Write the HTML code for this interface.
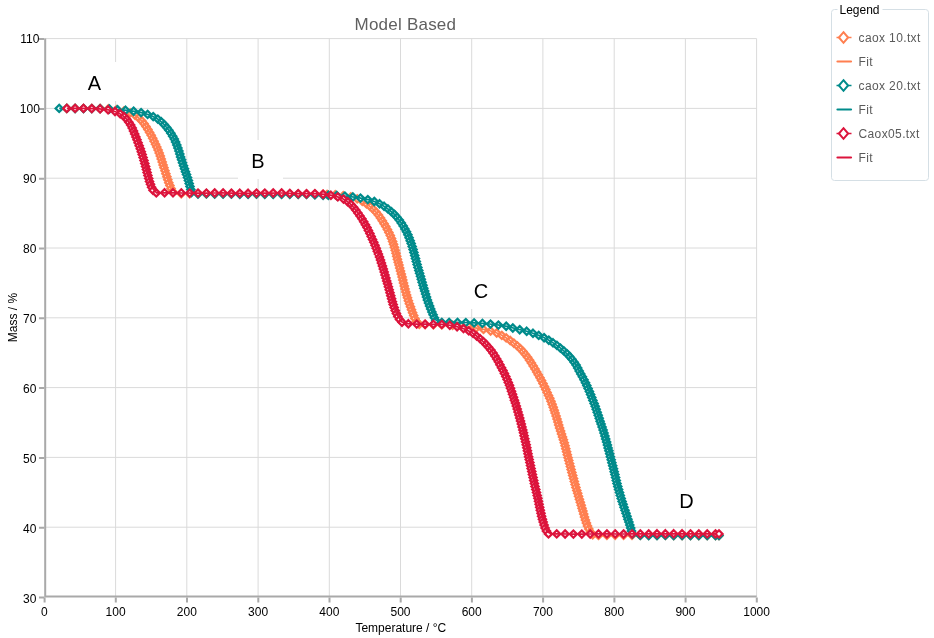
<!DOCTYPE html>
<html><head><meta charset="utf-8"><title>Model Based</title>
<style>html,body{margin:0;padding:0;background:#fff;}body{width:934px;height:638px;overflow:hidden;position:relative;}</style>
</head><body>
<svg width="934" height="638" viewBox="0 0 934 638" style="position:absolute;left:0;top:0;will-change:transform">
<path d="M115.6 38.6V597M186.8 38.6V597M258.1 38.6V597M329.3 38.6V597M400.5 38.6V597M471.7 38.6V597M542.9 38.6V597M614.2 38.6V597M685.4 38.6V597M756.6 38.6V597M44.4 527.2H756.6M44.4 457.4H756.6M44.4 387.6H756.6M44.4 317.8H756.6M44.4 248H756.6M44.4 178.2H756.6M44.4 108.4H756.6M44.4 38.6H756.6" stroke="#dadada" stroke-width="1" fill="none"/>
<rect x="74.7" y="62" width="45" height="39" fill="#fff"/>
<rect x="238" y="140" width="45" height="39" fill="#fff"/>
<rect x="461" y="269" width="45" height="40" fill="#fff"/>
<rect x="667" y="480" width="45" height="39" fill="#fff"/>
<path d="M45.2 38.6V597.6M44.2 596.6H756.6" stroke="#a9a9a9" stroke-width="2" fill="none"/>
<path d="M39 597.5H44.2M39 527.7H44.2M39 457.9H44.2M39 388.1H44.2M39 318.3H44.2M39 248.5H44.2M39 178.7H44.2M39 108.9H44.2M39 39.1H44.2M44.6 597.6V602.6M115.8 597.6V602.6M187 597.6V602.6M258.3 597.6V602.6M329.5 597.6V602.6M400.7 597.6V602.6M471.9 597.6V602.6M543.1 597.6V602.6M614.4 597.6V602.6M685.6 597.6V602.6M756.8 597.6V602.6" stroke="#a9a9a9" stroke-width="2" fill="none"/>
<g font-family="Liberation Sans, Arial, sans-serif" font-size="12" fill="#000"><text x="29.8" y="602.8" text-anchor="middle">30</text><text x="29.8" y="532.8" text-anchor="middle">40</text><text x="29.8" y="462.8" text-anchor="middle">50</text><text x="29.8" y="392.8" text-anchor="middle">60</text><text x="29.8" y="322.7" text-anchor="middle">70</text><text x="29.8" y="252.7" text-anchor="middle">80</text><text x="29.8" y="182.7" text-anchor="middle">90</text><text x="29.8" y="112.7" text-anchor="middle">100</text><text x="29.8" y="42.6" text-anchor="middle">110</text><text x="44.4" y="615.7" text-anchor="middle">0</text><text x="115.6" y="615.7" text-anchor="middle">100</text><text x="186.8" y="615.7" text-anchor="middle">200</text><text x="258.1" y="615.7" text-anchor="middle">300</text><text x="329.3" y="615.7" text-anchor="middle">400</text><text x="400.5" y="615.7" text-anchor="middle">500</text><text x="471.7" y="615.7" text-anchor="middle">600</text><text x="542.9" y="615.7" text-anchor="middle">700</text><text x="614.2" y="615.7" text-anchor="middle">800</text><text x="685.4" y="615.7" text-anchor="middle">900</text><text x="756.6" y="615.7" text-anchor="middle">1000</text></g>
<text x="400.8" y="631.5" text-anchor="middle" font-family="Liberation Sans, Arial, sans-serif" font-size="12" fill="#000">Temperature / °C</text>
<text transform="translate(16.9 317.6) rotate(-90)" text-anchor="middle" font-family="Liberation Sans, Arial, sans-serif" font-size="12" fill="#000">Mass / %</text>
<text x="405.4" y="29.8" text-anchor="middle" font-family="Liberation Sans, Arial, sans-serif" font-size="17" letter-spacing="0.22" fill="#606060">Model Based</text>
<text x="94.5" y="89.9" text-anchor="middle" font-family="Liberation Sans, Arial, sans-serif" font-size="20" fill="#000">A</text>
<text x="257.9" y="167.9" text-anchor="middle" font-family="Liberation Sans, Arial, sans-serif" font-size="20" fill="#000">B</text>
<text x="481.0" y="297.7" text-anchor="middle" font-family="Liberation Sans, Arial, sans-serif" font-size="20" fill="#000">C</text>
<text x="686.6" y="508.0" text-anchor="middle" font-family="Liberation Sans, Arial, sans-serif" font-size="20" fill="#000">D</text>
<g stroke="#FF7F50" stroke-width="2.25" fill="#fff"><path d="M66.8 104.8l3.6 3.6l-3.6 3.6l-3.6 -3.6z"/><path d="M66.8 104.8l3.6 3.6l-3.6 3.6l-3.6 -3.6z"/><path d="M75.1 104.8l3.6 3.6l-3.6 3.6l-3.6 -3.6z"/><path d="M83.5 104.8l3.6 3.6l-3.6 3.6l-3.6 -3.6z"/><path d="M91.8 104.8l3.6 3.6l-3.6 3.6l-3.6 -3.6z"/><path d="M100.1 104.9l3.6 3.6l-3.6 3.6l-3.6 -3.6z"/><path d="M108.5 105.2l3.6 3.6l-3.6 3.6l-3.6 -3.6z"/><path d="M116.6 106l3.6 3.6l-3.6 3.6l-3.6 -3.6z"/><path d="M124 107.3l3.6 3.6l-3.6 3.6l-3.6 -3.6z"/><path d="M130.2 109.3l3.6 3.6l-3.6 3.6l-3.6 -3.6z"/><path d="M135.1 111.7l3.6 3.6l-3.6 3.6l-3.6 -3.6z"/><path d="M138.8 114.4l3.6 3.6l-3.6 3.6l-3.6 -3.6z"/><path d="M141.7 117.2l3.6 3.6l-3.6 3.6l-3.6 -3.6z"/><path d="M144.1 120.1l3.6 3.6l-3.6 3.6l-3.6 -3.6z"/><path d="M146 123l3.6 3.6l-3.6 3.6l-3.6 -3.6z"/><path d="M147.9 125.9l3.6 3.6l-3.6 3.6l-3.6 -3.6z"/><path d="M149.6 128.8l3.6 3.6l-3.6 3.6l-3.6 -3.6z"/><path d="M151.2 131.7l3.6 3.6l-3.6 3.6l-3.6 -3.6z"/><path d="M152.7 134.7l3.6 3.6l-3.6 3.6l-3.6 -3.6z"/><path d="M154.1 137.6l3.6 3.6l-3.6 3.6l-3.6 -3.6z"/><path d="M155.5 140.6l3.6 3.6l-3.6 3.6l-3.6 -3.6z"/><path d="M156.8 143.5l3.6 3.6l-3.6 3.6l-3.6 -3.6z"/><path d="M158.1 146.5l3.6 3.6l-3.6 3.6l-3.6 -3.6z"/><path d="M159.2 149.4l3.6 3.6l-3.6 3.6l-3.6 -3.6z"/><path d="M160.3 152.4l3.6 3.6l-3.6 3.6l-3.6 -3.6z"/><path d="M161.2 155.3l3.6 3.6l-3.6 3.6l-3.6 -3.6z"/><path d="M162.2 158.3l3.6 3.6l-3.6 3.6l-3.6 -3.6z"/><path d="M163.1 161.3l3.6 3.6l-3.6 3.6l-3.6 -3.6z"/><path d="M164 164.2l3.6 3.6l-3.6 3.6l-3.6 -3.6z"/><path d="M165 167.2l3.6 3.6l-3.6 3.6l-3.6 -3.6z"/><path d="M165.9 170.2l3.6 3.6l-3.6 3.6l-3.6 -3.6z"/><path d="M166.9 173.1l3.6 3.6l-3.6 3.6l-3.6 -3.6z"/><path d="M167.8 176.1l3.6 3.6l-3.6 3.6l-3.6 -3.6z"/><path d="M168.8 179.1l3.6 3.6l-3.6 3.6l-3.6 -3.6z"/><path d="M169.9 182l3.6 3.6l-3.6 3.6l-3.6 -3.6z"/><path d="M171.1 185l3.6 3.6l-3.6 3.6l-3.6 -3.6z"/><path d="M172.6 187.9l3.6 3.6l-3.6 3.6l-3.6 -3.6z"/><path d="M181.3 190.1l3.6 3.6l-3.6 3.6l-3.6 -3.6z"/><path d="M189.7 190.1l3.6 3.6l-3.6 3.6l-3.6 -3.6z"/><path d="M198 190l3.6 3.6l-3.6 3.6l-3.6 -3.6z"/><path d="M206.4 190.1l3.6 3.6l-3.6 3.6l-3.6 -3.6z"/><path d="M214.7 190.2l3.6 3.6l-3.6 3.6l-3.6 -3.6z"/><path d="M223.1 190.3l3.6 3.6l-3.6 3.6l-3.6 -3.6z"/><path d="M231.4 190.3l3.6 3.6l-3.6 3.6l-3.6 -3.6z"/><path d="M239.8 190.3l3.6 3.6l-3.6 3.6l-3.6 -3.6z"/><path d="M248.1 190.3l3.6 3.6l-3.6 3.6l-3.6 -3.6z"/><path d="M256.5 190.4l3.6 3.6l-3.6 3.6l-3.6 -3.6z"/><path d="M264.8 190.4l3.6 3.6l-3.6 3.6l-3.6 -3.6z"/><path d="M273.2 190.5l3.6 3.6l-3.6 3.6l-3.6 -3.6z"/><path d="M281.6 190.5l3.6 3.6l-3.6 3.6l-3.6 -3.6z"/><path d="M289.8 190.5l3.6 3.6l-3.6 3.6l-3.6 -3.6z"/><path d="M298.2 190.6l3.6 3.6l-3.6 3.6l-3.6 -3.6z"/><path d="M306.5 190.6l3.6 3.6l-3.6 3.6l-3.6 -3.6z"/><path d="M314.9 190.6l3.6 3.6l-3.6 3.6l-3.6 -3.6z"/><path d="M323.1 190.7l3.6 3.6l-3.6 3.6l-3.6 -3.6z"/><path d="M327.1 190.8l3.6 3.6l-3.6 3.6l-3.6 -3.6z"/><path d="M335.3 191.2l3.6 3.6l-3.6 3.6l-3.6 -3.6z"/><path d="M343.3 192.1l3.6 3.6l-3.6 3.6l-3.6 -3.6z"/><path d="M350.8 193.4l3.6 3.6l-3.6 3.6l-3.6 -3.6z"/><path d="M357.2 195.3l3.6 3.6l-3.6 3.6l-3.6 -3.6z"/><path d="M362.3 197.7l3.6 3.6l-3.6 3.6l-3.6 -3.6z"/><path d="M366.5 200.3l3.6 3.6l-3.6 3.6l-3.6 -3.6z"/><path d="M370.2 202.9l3.6 3.6l-3.6 3.6l-3.6 -3.6z"/><path d="M373.3 205.7l3.6 3.6l-3.6 3.6l-3.6 -3.6z"/><path d="M376 208.5l3.6 3.6l-3.6 3.6l-3.6 -3.6z"/><path d="M378.4 211.4l3.6 3.6l-3.6 3.6l-3.6 -3.6z"/><path d="M380.5 214.3l3.6 3.6l-3.6 3.6l-3.6 -3.6z"/><path d="M382.3 217.2l3.6 3.6l-3.6 3.6l-3.6 -3.6z"/><path d="M384.1 220.1l3.6 3.6l-3.6 3.6l-3.6 -3.6z"/><path d="M385.8 223l3.6 3.6l-3.6 3.6l-3.6 -3.6z"/><path d="M387.4 226l3.6 3.6l-3.6 3.6l-3.6 -3.6z"/><path d="M388.9 228.9l3.6 3.6l-3.6 3.6l-3.6 -3.6z"/><path d="M390.3 231.9l3.6 3.6l-3.6 3.6l-3.6 -3.6z"/><path d="M391.5 234.8l3.6 3.6l-3.6 3.6l-3.6 -3.6z"/><path d="M392.6 237.8l3.6 3.6l-3.6 3.6l-3.6 -3.6z"/><path d="M393.5 240.7l3.6 3.6l-3.6 3.6l-3.6 -3.6z"/><path d="M394.4 243.7l3.6 3.6l-3.6 3.6l-3.6 -3.6z"/><path d="M395.2 246.7l3.6 3.6l-3.6 3.6l-3.6 -3.6z"/><path d="M396 249.6l3.6 3.6l-3.6 3.6l-3.6 -3.6z"/><path d="M396.7 252.6l3.6 3.6l-3.6 3.6l-3.6 -3.6z"/><path d="M397.4 255.6l3.6 3.6l-3.6 3.6l-3.6 -3.6z"/><path d="M398.2 258.6l3.6 3.6l-3.6 3.6l-3.6 -3.6z"/><path d="M399 261.5l3.6 3.6l-3.6 3.6l-3.6 -3.6z"/><path d="M399.7 264.5l3.6 3.6l-3.6 3.6l-3.6 -3.6z"/><path d="M400.5 267.5l3.6 3.6l-3.6 3.6l-3.6 -3.6z"/><path d="M401.3 270.5l3.6 3.6l-3.6 3.6l-3.6 -3.6z"/><path d="M402.1 273.4l3.6 3.6l-3.6 3.6l-3.6 -3.6z"/><path d="M402.8 276.4l3.6 3.6l-3.6 3.6l-3.6 -3.6z"/><path d="M403.5 279.4l3.6 3.6l-3.6 3.6l-3.6 -3.6z"/><path d="M404.3 282.4l3.6 3.6l-3.6 3.6l-3.6 -3.6z"/><path d="M405 285.3l3.6 3.6l-3.6 3.6l-3.6 -3.6z"/><path d="M405.8 288.3l3.6 3.6l-3.6 3.6l-3.6 -3.6z"/><path d="M406.6 291.3l3.6 3.6l-3.6 3.6l-3.6 -3.6z"/><path d="M407.5 294.2l3.6 3.6l-3.6 3.6l-3.6 -3.6z"/><path d="M408.4 297.2l3.6 3.6l-3.6 3.6l-3.6 -3.6z"/><path d="M409.4 300.2l3.6 3.6l-3.6 3.6l-3.6 -3.6z"/><path d="M410.5 303.1l3.6 3.6l-3.6 3.6l-3.6 -3.6z"/><path d="M411.5 306.1l3.6 3.6l-3.6 3.6l-3.6 -3.6z"/><path d="M412.6 309.1l3.6 3.6l-3.6 3.6l-3.6 -3.6z"/><path d="M413.7 312l3.6 3.6l-3.6 3.6l-3.6 -3.6z"/><path d="M414.9 315l3.6 3.6l-3.6 3.6l-3.6 -3.6z"/><path d="M416.4 317.9l3.6 3.6l-3.6 3.6l-3.6 -3.6z"/><path d="M419.3 320.7l3.6 3.6l-3.6 3.6l-3.6 -3.6z"/><path d="M425.1 320.9l3.6 3.6l-3.6 3.6l-3.6 -3.6z"/><path d="M433.4 321.1l3.6 3.6l-3.6 3.6l-3.6 -3.6z"/><path d="M441.8 321.3l3.6 3.6l-3.6 3.6l-3.6 -3.6z"/><path d="M452.6 321.6l3.6 3.6l-3.6 3.6l-3.6 -3.6z"/><path d="M460.8 322l3.6 3.6l-3.6 3.6l-3.6 -3.6z"/><path d="M468.8 323l3.6 3.6l-3.6 3.6l-3.6 -3.6z"/><path d="M476.2 324.4l3.6 3.6l-3.6 3.6l-3.6 -3.6z"/><path d="M483.5 325.8l3.6 3.6l-3.6 3.6l-3.6 -3.6z"/><path d="M490.6 327.4l3.6 3.6l-3.6 3.6l-3.6 -3.6z"/><path d="M496.7 329.4l3.6 3.6l-3.6 3.6l-3.6 -3.6z"/><path d="M501.8 331.8l3.6 3.6l-3.6 3.6l-3.6 -3.6z"/><path d="M506.2 334.3l3.6 3.6l-3.6 3.6l-3.6 -3.6z"/><path d="M510.2 336.9l3.6 3.6l-3.6 3.6l-3.6 -3.6z"/><path d="M513.9 339.6l3.6 3.6l-3.6 3.6l-3.6 -3.6z"/><path d="M517.3 342.3l3.6 3.6l-3.6 3.6l-3.6 -3.6z"/><path d="M520.3 345.1l3.6 3.6l-3.6 3.6l-3.6 -3.6z"/><path d="M523 347.9l3.6 3.6l-3.6 3.6l-3.6 -3.6z"/><path d="M525.4 350.8l3.6 3.6l-3.6 3.6l-3.6 -3.6z"/><path d="M527.6 353.7l3.6 3.6l-3.6 3.6l-3.6 -3.6z"/><path d="M529.6 356.6l3.6 3.6l-3.6 3.6l-3.6 -3.6z"/><path d="M531.4 359.5l3.6 3.6l-3.6 3.6l-3.6 -3.6z"/><path d="M533.2 362.4l3.6 3.6l-3.6 3.6l-3.6 -3.6z"/><path d="M535 365.3l3.6 3.6l-3.6 3.6l-3.6 -3.6z"/><path d="M536.7 368.3l3.6 3.6l-3.6 3.6l-3.6 -3.6z"/><path d="M538.3 371.2l3.6 3.6l-3.6 3.6l-3.6 -3.6z"/><path d="M540 374.1l3.6 3.6l-3.6 3.6l-3.6 -3.6z"/><path d="M541.5 377l3.6 3.6l-3.6 3.6l-3.6 -3.6z"/><path d="M543 380l3.6 3.6l-3.6 3.6l-3.6 -3.6z"/><path d="M544.4 382.9l3.6 3.6l-3.6 3.6l-3.6 -3.6z"/><path d="M545.8 385.9l3.6 3.6l-3.6 3.6l-3.6 -3.6z"/><path d="M547.1 388.8l3.6 3.6l-3.6 3.6l-3.6 -3.6z"/><path d="M548.5 391.8l3.6 3.6l-3.6 3.6l-3.6 -3.6z"/><path d="M549.8 394.7l3.6 3.6l-3.6 3.6l-3.6 -3.6z"/><path d="M551 397.7l3.6 3.6l-3.6 3.6l-3.6 -3.6z"/><path d="M552.1 400.6l3.6 3.6l-3.6 3.6l-3.6 -3.6z"/><path d="M553.2 403.6l3.6 3.6l-3.6 3.6l-3.6 -3.6z"/><path d="M554.2 406.6l3.6 3.6l-3.6 3.6l-3.6 -3.6z"/><path d="M555.1 409.5l3.6 3.6l-3.6 3.6l-3.6 -3.6z"/><path d="M556.1 412.5l3.6 3.6l-3.6 3.6l-3.6 -3.6z"/><path d="M557 415.5l3.6 3.6l-3.6 3.6l-3.6 -3.6z"/><path d="M557.9 418.4l3.6 3.6l-3.6 3.6l-3.6 -3.6z"/><path d="M558.7 421.4l3.6 3.6l-3.6 3.6l-3.6 -3.6z"/><path d="M559.6 424.4l3.6 3.6l-3.6 3.6l-3.6 -3.6z"/><path d="M560.6 427.3l3.6 3.6l-3.6 3.6l-3.6 -3.6z"/><path d="M561.5 430.3l3.6 3.6l-3.6 3.6l-3.6 -3.6z"/><path d="M562.5 433.3l3.6 3.6l-3.6 3.6l-3.6 -3.6z"/><path d="M563.4 436.2l3.6 3.6l-3.6 3.6l-3.6 -3.6z"/><path d="M564.3 439.2l3.6 3.6l-3.6 3.6l-3.6 -3.6z"/><path d="M565.1 442.2l3.6 3.6l-3.6 3.6l-3.6 -3.6z"/><path d="M565.8 445.1l3.6 3.6l-3.6 3.6l-3.6 -3.6z"/><path d="M566.6 448.1l3.6 3.6l-3.6 3.6l-3.6 -3.6z"/><path d="M567.3 451.1l3.6 3.6l-3.6 3.6l-3.6 -3.6z"/><path d="M568.1 454.1l3.6 3.6l-3.6 3.6l-3.6 -3.6z"/><path d="M568.8 457l3.6 3.6l-3.6 3.6l-3.6 -3.6z"/><path d="M569.6 460l3.6 3.6l-3.6 3.6l-3.6 -3.6z"/><path d="M570.4 463l3.6 3.6l-3.6 3.6l-3.6 -3.6z"/><path d="M571.1 466l3.6 3.6l-3.6 3.6l-3.6 -3.6z"/><path d="M571.9 468.9l3.6 3.6l-3.6 3.6l-3.6 -3.6z"/><path d="M572.7 471.9l3.6 3.6l-3.6 3.6l-3.6 -3.6z"/><path d="M573.5 474.9l3.6 3.6l-3.6 3.6l-3.6 -3.6z"/><path d="M574.3 477.8l3.6 3.6l-3.6 3.6l-3.6 -3.6z"/><path d="M575.1 480.8l3.6 3.6l-3.6 3.6l-3.6 -3.6z"/><path d="M575.9 483.8l3.6 3.6l-3.6 3.6l-3.6 -3.6z"/><path d="M576.8 486.8l3.6 3.6l-3.6 3.6l-3.6 -3.6z"/><path d="M577.7 489.7l3.6 3.6l-3.6 3.6l-3.6 -3.6z"/><path d="M578.5 492.7l3.6 3.6l-3.6 3.6l-3.6 -3.6z"/><path d="M579.4 495.7l3.6 3.6l-3.6 3.6l-3.6 -3.6z"/><path d="M580.3 498.6l3.6 3.6l-3.6 3.6l-3.6 -3.6z"/><path d="M581.2 501.6l3.6 3.6l-3.6 3.6l-3.6 -3.6z"/><path d="M582 504.6l3.6 3.6l-3.6 3.6l-3.6 -3.6z"/><path d="M582.9 507.5l3.6 3.6l-3.6 3.6l-3.6 -3.6z"/><path d="M583.7 510.5l3.6 3.6l-3.6 3.6l-3.6 -3.6z"/><path d="M584.5 513.5l3.6 3.6l-3.6 3.6l-3.6 -3.6z"/><path d="M585.4 516.5l3.6 3.6l-3.6 3.6l-3.6 -3.6z"/><path d="M586.4 519.4l3.6 3.6l-3.6 3.6l-3.6 -3.6z"/><path d="M587.5 522.4l3.6 3.6l-3.6 3.6l-3.6 -3.6z"/><path d="M588.8 525.3l3.6 3.6l-3.6 3.6l-3.6 -3.6z"/><path d="M590.4 528.3l3.6 3.6l-3.6 3.6l-3.6 -3.6z"/><path d="M592.7 531.1l3.6 3.6l-3.6 3.6l-3.6 -3.6z"/><path d="M598.5 531.8l3.6 3.6l-3.6 3.6l-3.6 -3.6z"/><path d="M606.9 531.8l3.6 3.6l-3.6 3.6l-3.6 -3.6z"/><path d="M615.2 531.7l3.6 3.6l-3.6 3.6l-3.6 -3.6z"/><path d="M623.6 531.7l3.6 3.6l-3.6 3.6l-3.6 -3.6z"/><path d="M632 531.7l3.6 3.6l-3.6 3.6l-3.6 -3.6z"/><path d="M640.3 531.8l3.6 3.6l-3.6 3.6l-3.6 -3.6z"/><path d="M648.7 531.8l3.6 3.6l-3.6 3.6l-3.6 -3.6z"/><path d="M657 531.8l3.6 3.6l-3.6 3.6l-3.6 -3.6z"/><path d="M665.4 531.8l3.6 3.6l-3.6 3.6l-3.6 -3.6z"/><path d="M673.7 531.9l3.6 3.6l-3.6 3.6l-3.6 -3.6z"/><path d="M682.1 531.9l3.6 3.6l-3.6 3.6l-3.6 -3.6z"/><path d="M690.5 531.9l3.6 3.6l-3.6 3.6l-3.6 -3.6z"/><path d="M698.8 531.9l3.6 3.6l-3.6 3.6l-3.6 -3.6z"/><path d="M707.2 531.9l3.6 3.6l-3.6 3.6l-3.6 -3.6z"/><path d="M715.5 531.9l3.6 3.6l-3.6 3.6l-3.6 -3.6z"/><path d="M719 531.9l3.6 3.6l-3.6 3.6l-3.6 -3.6z"/></g>
<path d="M66.8 108.4 71.8 108.4 76.8 108.4 81.8 108.4 86.8 108.4 91.8 108.4 96.8 108.4 101.8 108.6 106.8 108.7 111.8 109.1 116.8 109.6 121.8 110.4 126.9 111.7 132 113.7 137.1 116.6 141.9 121 146.4 127.2 151.4 135.8 156.8 147.1 161.9 161.1 166.8 176.5 171.6 189.8 176.6 193.8 181.7 193.7 186.7 193.7 191.7 193.6 196.7 193.6 201.7 193.6 206.7 193.7 211.7 193.7 216.7 193.8 221.7 193.9 226.8 193.9 231.8 193.9 236.8 193.9 241.8 193.9 246.8 193.9 251.8 194 256.8 194 261.8 194 266.8 194 271.8 194 276.8 194.1 281.8 194.1 286.8 194.1 291.8 194.1 296.8 194.2 301.8 194.2 306.8 194.2 311.8 194.3 316.8 194.2 321.8 194.3 326.8 194.4 331.8 194.6 336.8 195 341.8 195.5 346.8 196.2 351.8 197.2 356.8 198.7 361.8 201 366.8 204 371.8 207.9 376.7 212.9 381.7 219.9 387.3 229.3 392.6 241.5 396.8 256.7 401.4 274.5 406.3 293.7 412.1 311.4 417.1 322.6 421.9 324.4 426.8 324.5 431.8 324.6 436.8 324.7 441.8 324.9 446.8 325 451.8 325.2 456.8 325.4 461.8 325.7 466.8 326.3 471.8 327.1 476.8 328.1 481.8 329.1 486.8 330 491.8 331.3 496.8 333 501.8 335.3 506.8 338.3 511.8 341.7 517 345.7 522.1 350.5 526.9 356.3 531.5 363.2 536.3 371.3 541.5 380.7 546.8 391.7 552.2 404.4 556.9 418.7 561.8 434.8 566.7 452.3 571.5 470.9 576.7 489.9 582 508.1 586.6 523.7 591.7 533.8 596.7 535.4 601.7 535.4 606.7 535.4 611.7 535.4 616.7 535.3 621.7 535.3 626.7 535.3 631.7 535.3 636.7 535.3 641.8 535.4 646.8 535.4 651.8 535.4 656.8 535.4 661.8 535.4 666.8 535.4 671.8 535.5 676.8 535.5 681.8 535.5 686.8 535.5 691.8 535.5 696.8 535.5 701.8 535.5 706.8 535.5 711.8 535.5 716.8 535.5" stroke="#FF7F50" stroke-width="1.7" fill="none" stroke-linejoin="round"/>
<g stroke="#008B8B" stroke-width="2.25" fill="#fff"><path d="M59.2 104.8l3.6 3.6l-3.6 3.6l-3.6 -3.6z"/><path d="M66.8 104.8l3.6 3.6l-3.6 3.6l-3.6 -3.6z"/><path d="M75.1 104.9l3.6 3.6l-3.6 3.6l-3.6 -3.6z"/><path d="M83.5 105l3.6 3.6l-3.6 3.6l-3.6 -3.6z"/><path d="M91.8 105l3.6 3.6l-3.6 3.6l-3.6 -3.6z"/><path d="M100.1 105l3.6 3.6l-3.6 3.6l-3.6 -3.6z"/><path d="M109.3 105.4l3.6 3.6l-3.6 3.6l-3.6 -3.6z"/><path d="M117.5 106.1l3.6 3.6l-3.6 3.6l-3.6 -3.6z"/><path d="M125.6 106.7l3.6 3.6l-3.6 3.6l-3.6 -3.6z"/><path d="M133.6 107.6l3.6 3.6l-3.6 3.6l-3.6 -3.6z"/><path d="M141.1 109l3.6 3.6l-3.6 3.6l-3.6 -3.6z"/><path d="M147.6 110.8l3.6 3.6l-3.6 3.6l-3.6 -3.6z"/><path d="M153.2 113l3.6 3.6l-3.6 3.6l-3.6 -3.6z"/><path d="M157.8 115.5l3.6 3.6l-3.6 3.6l-3.6 -3.6z"/><path d="M161.4 118.2l3.6 3.6l-3.6 3.6l-3.6 -3.6z"/><path d="M164.2 121l3.6 3.6l-3.6 3.6l-3.6 -3.6z"/><path d="M166.7 123.9l3.6 3.6l-3.6 3.6l-3.6 -3.6z"/><path d="M168.9 126.7l3.6 3.6l-3.6 3.6l-3.6 -3.6z"/><path d="M170.9 129.6l3.6 3.6l-3.6 3.6l-3.6 -3.6z"/><path d="M172.7 132.6l3.6 3.6l-3.6 3.6l-3.6 -3.6z"/><path d="M174.3 135.5l3.6 3.6l-3.6 3.6l-3.6 -3.6z"/><path d="M175.6 138.4l3.6 3.6l-3.6 3.6l-3.6 -3.6z"/><path d="M176.8 141.4l3.6 3.6l-3.6 3.6l-3.6 -3.6z"/><path d="M177.9 144.4l3.6 3.6l-3.6 3.6l-3.6 -3.6z"/><path d="M178.9 147.3l3.6 3.6l-3.6 3.6l-3.6 -3.6z"/><path d="M179.8 150.3l3.6 3.6l-3.6 3.6l-3.6 -3.6z"/><path d="M180.6 153.3l3.6 3.6l-3.6 3.6l-3.6 -3.6z"/><path d="M181.6 156.2l3.6 3.6l-3.6 3.6l-3.6 -3.6z"/><path d="M182.5 159.2l3.6 3.6l-3.6 3.6l-3.6 -3.6z"/><path d="M183.5 162.2l3.6 3.6l-3.6 3.6l-3.6 -3.6z"/><path d="M184.5 165.1l3.6 3.6l-3.6 3.6l-3.6 -3.6z"/><path d="M185.5 168.1l3.6 3.6l-3.6 3.6l-3.6 -3.6z"/><path d="M186.5 171l3.6 3.6l-3.6 3.6l-3.6 -3.6z"/><path d="M187.5 174l3.6 3.6l-3.6 3.6l-3.6 -3.6z"/><path d="M188.4 177l3.6 3.6l-3.6 3.6l-3.6 -3.6z"/><path d="M189.2 180l3.6 3.6l-3.6 3.6l-3.6 -3.6z"/><path d="M190 182.9l3.6 3.6l-3.6 3.6l-3.6 -3.6z"/><path d="M190.8 185.9l3.6 3.6l-3.6 3.6l-3.6 -3.6z"/><path d="M191.4 188.9l3.6 3.6l-3.6 3.6l-3.6 -3.6z"/><path d="M198 190.5l3.6 3.6l-3.6 3.6l-3.6 -3.6z"/><path d="M206.4 190.3l3.6 3.6l-3.6 3.6l-3.6 -3.6z"/><path d="M214.7 190.4l3.6 3.6l-3.6 3.6l-3.6 -3.6z"/><path d="M223.1 190.5l3.6 3.6l-3.6 3.6l-3.6 -3.6z"/><path d="M231.4 190.5l3.6 3.6l-3.6 3.6l-3.6 -3.6z"/><path d="M239.8 190.6l3.6 3.6l-3.6 3.6l-3.6 -3.6z"/><path d="M248.1 190.7l3.6 3.6l-3.6 3.6l-3.6 -3.6z"/><path d="M256.5 190.5l3.6 3.6l-3.6 3.6l-3.6 -3.6z"/><path d="M264.8 190.6l3.6 3.6l-3.6 3.6l-3.6 -3.6z"/><path d="M273.2 190.6l3.6 3.6l-3.6 3.6l-3.6 -3.6z"/><path d="M281.6 190.6l3.6 3.6l-3.6 3.6l-3.6 -3.6z"/><path d="M289.8 190.7l3.6 3.6l-3.6 3.6l-3.6 -3.6z"/><path d="M298.2 190.7l3.6 3.6l-3.6 3.6l-3.6 -3.6z"/><path d="M306.5 190.8l3.6 3.6l-3.6 3.6l-3.6 -3.6z"/><path d="M314.9 191.3l3.6 3.6l-3.6 3.6l-3.6 -3.6z"/><path d="M323.1 191.6l3.6 3.6l-3.6 3.6l-3.6 -3.6z"/><path d="M328.4 191.6l3.6 3.6l-3.6 3.6l-3.6 -3.6z"/><path d="M336.7 191.9l3.6 3.6l-3.6 3.6l-3.6 -3.6z"/><path d="M344.9 192.5l3.6 3.6l-3.6 3.6l-3.6 -3.6z"/><path d="M352.8 193.4l3.6 3.6l-3.6 3.6l-3.6 -3.6z"/><path d="M360.5 194.5l3.6 3.6l-3.6 3.6l-3.6 -3.6z"/><path d="M367.8 196l3.6 3.6l-3.6 3.6l-3.6 -3.6z"/><path d="M374.3 197.9l3.6 3.6l-3.6 3.6l-3.6 -3.6z"/><path d="M379.6 200.2l3.6 3.6l-3.6 3.6l-3.6 -3.6z"/><path d="M384.1 202.7l3.6 3.6l-3.6 3.6l-3.6 -3.6z"/><path d="M387.9 205.3l3.6 3.6l-3.6 3.6l-3.6 -3.6z"/><path d="M391.4 208.1l3.6 3.6l-3.6 3.6l-3.6 -3.6z"/><path d="M394.5 210.8l3.6 3.6l-3.6 3.6l-3.6 -3.6z"/><path d="M397 213.7l3.6 3.6l-3.6 3.6l-3.6 -3.6z"/><path d="M399.3 216.5l3.6 3.6l-3.6 3.6l-3.6 -3.6z"/><path d="M401.3 219.4l3.6 3.6l-3.6 3.6l-3.6 -3.6z"/><path d="M403.2 222.3l3.6 3.6l-3.6 3.6l-3.6 -3.6z"/><path d="M404.9 225.3l3.6 3.6l-3.6 3.6l-3.6 -3.6z"/><path d="M406.5 228.2l3.6 3.6l-3.6 3.6l-3.6 -3.6z"/><path d="M407.9 231.1l3.6 3.6l-3.6 3.6l-3.6 -3.6z"/><path d="M409.1 234.1l3.6 3.6l-3.6 3.6l-3.6 -3.6z"/><path d="M410.2 237.1l3.6 3.6l-3.6 3.6l-3.6 -3.6z"/><path d="M411.2 240l3.6 3.6l-3.6 3.6l-3.6 -3.6z"/><path d="M412.2 243l3.6 3.6l-3.6 3.6l-3.6 -3.6z"/><path d="M413.1 246l3.6 3.6l-3.6 3.6l-3.6 -3.6z"/><path d="M413.9 248.9l3.6 3.6l-3.6 3.6l-3.6 -3.6z"/><path d="M414.7 251.9l3.6 3.6l-3.6 3.6l-3.6 -3.6z"/><path d="M415.5 254.9l3.6 3.6l-3.6 3.6l-3.6 -3.6z"/><path d="M416.3 257.8l3.6 3.6l-3.6 3.6l-3.6 -3.6z"/><path d="M417.1 260.8l3.6 3.6l-3.6 3.6l-3.6 -3.6z"/><path d="M417.9 263.8l3.6 3.6l-3.6 3.6l-3.6 -3.6z"/><path d="M418.8 266.8l3.6 3.6l-3.6 3.6l-3.6 -3.6z"/><path d="M419.6 269.7l3.6 3.6l-3.6 3.6l-3.6 -3.6z"/><path d="M420.5 272.7l3.6 3.6l-3.6 3.6l-3.6 -3.6z"/><path d="M421.3 275.7l3.6 3.6l-3.6 3.6l-3.6 -3.6z"/><path d="M422.1 278.6l3.6 3.6l-3.6 3.6l-3.6 -3.6z"/><path d="M423 281.6l3.6 3.6l-3.6 3.6l-3.6 -3.6z"/><path d="M423.8 284.6l3.6 3.6l-3.6 3.6l-3.6 -3.6z"/><path d="M424.7 287.5l3.6 3.6l-3.6 3.6l-3.6 -3.6z"/><path d="M425.6 290.5l3.6 3.6l-3.6 3.6l-3.6 -3.6z"/><path d="M426.5 293.5l3.6 3.6l-3.6 3.6l-3.6 -3.6z"/><path d="M427.4 296.5l3.6 3.6l-3.6 3.6l-3.6 -3.6z"/><path d="M428.5 299.4l3.6 3.6l-3.6 3.6l-3.6 -3.6z"/><path d="M429.6 302.4l3.6 3.6l-3.6 3.6l-3.6 -3.6z"/><path d="M430.7 305.3l3.6 3.6l-3.6 3.6l-3.6 -3.6z"/><path d="M431.9 308.3l3.6 3.6l-3.6 3.6l-3.6 -3.6z"/><path d="M433.1 311.2l3.6 3.6l-3.6 3.6l-3.6 -3.6z"/><path d="M434.4 314.2l3.6 3.6l-3.6 3.6l-3.6 -3.6z"/><path d="M435.8 317.1l3.6 3.6l-3.6 3.6l-3.6 -3.6z"/><path d="M441.8 318.8l3.6 3.6l-3.6 3.6l-3.6 -3.6z"/><path d="M449.1 318.8l3.6 3.6l-3.6 3.6l-3.6 -3.6z"/><path d="M457.5 318.8l3.6 3.6l-3.6 3.6l-3.6 -3.6z"/><path d="M465.8 319l3.6 3.6l-3.6 3.6l-3.6 -3.6z"/><path d="M474.1 319.3l3.6 3.6l-3.6 3.6l-3.6 -3.6z"/><path d="M482.4 319.8l3.6 3.6l-3.6 3.6l-3.6 -3.6z"/><path d="M490.5 320.5l3.6 3.6l-3.6 3.6l-3.6 -3.6z"/><path d="M498.4 321.5l3.6 3.6l-3.6 3.6l-3.6 -3.6z"/><path d="M506.2 322.6l3.6 3.6l-3.6 3.6l-3.6 -3.6z"/><path d="M512.8 324.4l3.6 3.6l-3.6 3.6l-3.6 -3.6z"/><path d="M519.7 326.1l3.6 3.6l-3.6 3.6l-3.6 -3.6z"/><path d="M526.7 327.7l3.6 3.6l-3.6 3.6l-3.6 -3.6z"/><path d="M533 329.7l3.6 3.6l-3.6 3.6l-3.6 -3.6z"/><path d="M538.7 331.8l3.6 3.6l-3.6 3.6l-3.6 -3.6z"/><path d="M544.1 334.1l3.6 3.6l-3.6 3.6l-3.6 -3.6z"/><path d="M548.8 336.6l3.6 3.6l-3.6 3.6l-3.6 -3.6z"/><path d="M553 339.2l3.6 3.6l-3.6 3.6l-3.6 -3.6z"/><path d="M556.9 341.8l3.6 3.6l-3.6 3.6l-3.6 -3.6z"/><path d="M560.4 344.5l3.6 3.6l-3.6 3.6l-3.6 -3.6z"/><path d="M563.8 347.3l3.6 3.6l-3.6 3.6l-3.6 -3.6z"/><path d="M566.9 350l3.6 3.6l-3.6 3.6l-3.6 -3.6z"/><path d="M569.6 352.9l3.6 3.6l-3.6 3.6l-3.6 -3.6z"/><path d="M572 355.7l3.6 3.6l-3.6 3.6l-3.6 -3.6z"/><path d="M574.2 358.6l3.6 3.6l-3.6 3.6l-3.6 -3.6z"/><path d="M576.1 361.5l3.6 3.6l-3.6 3.6l-3.6 -3.6z"/><path d="M577.7 364.4l3.6 3.6l-3.6 3.6l-3.6 -3.6z"/><path d="M579.2 367.4l3.6 3.6l-3.6 3.6l-3.6 -3.6z"/><path d="M580.8 370.3l3.6 3.6l-3.6 3.6l-3.6 -3.6z"/><path d="M582.4 373.2l3.6 3.6l-3.6 3.6l-3.6 -3.6z"/><path d="M584 376.2l3.6 3.6l-3.6 3.6l-3.6 -3.6z"/><path d="M585.5 379.1l3.6 3.6l-3.6 3.6l-3.6 -3.6z"/><path d="M586.8 382l3.6 3.6l-3.6 3.6l-3.6 -3.6z"/><path d="M588.1 385l3.6 3.6l-3.6 3.6l-3.6 -3.6z"/><path d="M589.4 387.9l3.6 3.6l-3.6 3.6l-3.6 -3.6z"/><path d="M590.6 390.9l3.6 3.6l-3.6 3.6l-3.6 -3.6z"/><path d="M591.8 393.9l3.6 3.6l-3.6 3.6l-3.6 -3.6z"/><path d="M592.9 396.8l3.6 3.6l-3.6 3.6l-3.6 -3.6z"/><path d="M594.1 399.8l3.6 3.6l-3.6 3.6l-3.6 -3.6z"/><path d="M595.2 402.7l3.6 3.6l-3.6 3.6l-3.6 -3.6z"/><path d="M596.2 405.7l3.6 3.6l-3.6 3.6l-3.6 -3.6z"/><path d="M597.2 408.7l3.6 3.6l-3.6 3.6l-3.6 -3.6z"/><path d="M598.2 411.6l3.6 3.6l-3.6 3.6l-3.6 -3.6z"/><path d="M599.2 414.6l3.6 3.6l-3.6 3.6l-3.6 -3.6z"/><path d="M600.1 417.6l3.6 3.6l-3.6 3.6l-3.6 -3.6z"/><path d="M601.1 420.5l3.6 3.6l-3.6 3.6l-3.6 -3.6z"/><path d="M602.1 423.5l3.6 3.6l-3.6 3.6l-3.6 -3.6z"/><path d="M603.1 426.4l3.6 3.6l-3.6 3.6l-3.6 -3.6z"/><path d="M604 429.4l3.6 3.6l-3.6 3.6l-3.6 -3.6z"/><path d="M604.9 432.4l3.6 3.6l-3.6 3.6l-3.6 -3.6z"/><path d="M605.7 435.4l3.6 3.6l-3.6 3.6l-3.6 -3.6z"/><path d="M606.6 438.3l3.6 3.6l-3.6 3.6l-3.6 -3.6z"/><path d="M607.4 441.3l3.6 3.6l-3.6 3.6l-3.6 -3.6z"/><path d="M608.1 444.3l3.6 3.6l-3.6 3.6l-3.6 -3.6z"/><path d="M608.9 447.2l3.6 3.6l-3.6 3.6l-3.6 -3.6z"/><path d="M609.7 450.2l3.6 3.6l-3.6 3.6l-3.6 -3.6z"/><path d="M610.4 453.2l3.6 3.6l-3.6 3.6l-3.6 -3.6z"/><path d="M611.2 456.2l3.6 3.6l-3.6 3.6l-3.6 -3.6z"/><path d="M611.9 459.1l3.6 3.6l-3.6 3.6l-3.6 -3.6z"/><path d="M612.7 462.1l3.6 3.6l-3.6 3.6l-3.6 -3.6z"/><path d="M613.5 465.1l3.6 3.6l-3.6 3.6l-3.6 -3.6z"/><path d="M614.2 468.1l3.6 3.6l-3.6 3.6l-3.6 -3.6z"/><path d="M614.9 471l3.6 3.6l-3.6 3.6l-3.6 -3.6z"/><path d="M615.6 474l3.6 3.6l-3.6 3.6l-3.6 -3.6z"/><path d="M616.3 477l3.6 3.6l-3.6 3.6l-3.6 -3.6z"/><path d="M617 480l3.6 3.6l-3.6 3.6l-3.6 -3.6z"/><path d="M617.8 482.9l3.6 3.6l-3.6 3.6l-3.6 -3.6z"/><path d="M618.6 485.9l3.6 3.6l-3.6 3.6l-3.6 -3.6z"/><path d="M619.5 488.9l3.6 3.6l-3.6 3.6l-3.6 -3.6z"/><path d="M620.3 491.8l3.6 3.6l-3.6 3.6l-3.6 -3.6z"/><path d="M621.2 494.8l3.6 3.6l-3.6 3.6l-3.6 -3.6z"/><path d="M622.1 497.8l3.6 3.6l-3.6 3.6l-3.6 -3.6z"/><path d="M623.1 500.7l3.6 3.6l-3.6 3.6l-3.6 -3.6z"/><path d="M624 503.7l3.6 3.6l-3.6 3.6l-3.6 -3.6z"/><path d="M625 506.7l3.6 3.6l-3.6 3.6l-3.6 -3.6z"/><path d="M626 509.6l3.6 3.6l-3.6 3.6l-3.6 -3.6z"/><path d="M627 512.6l3.6 3.6l-3.6 3.6l-3.6 -3.6z"/><path d="M627.9 515.6l3.6 3.6l-3.6 3.6l-3.6 -3.6z"/><path d="M628.9 518.5l3.6 3.6l-3.6 3.6l-3.6 -3.6z"/><path d="M629.8 521.5l3.6 3.6l-3.6 3.6l-3.6 -3.6z"/><path d="M630.7 524.5l3.6 3.6l-3.6 3.6l-3.6 -3.6z"/><path d="M631.5 527.4l3.6 3.6l-3.6 3.6l-3.6 -3.6z"/><path d="M632.5 530.4l3.6 3.6l-3.6 3.6l-3.6 -3.6z"/><path d="M640.3 531.8l3.6 3.6l-3.6 3.6l-3.6 -3.6z"/><path d="M648.7 531.9l3.6 3.6l-3.6 3.6l-3.6 -3.6z"/><path d="M657 531.9l3.6 3.6l-3.6 3.6l-3.6 -3.6z"/><path d="M665.4 531.8l3.6 3.6l-3.6 3.6l-3.6 -3.6z"/><path d="M673.7 531.9l3.6 3.6l-3.6 3.6l-3.6 -3.6z"/><path d="M682.1 531.9l3.6 3.6l-3.6 3.6l-3.6 -3.6z"/><path d="M690.5 531.9l3.6 3.6l-3.6 3.6l-3.6 -3.6z"/><path d="M698.8 532l3.6 3.6l-3.6 3.6l-3.6 -3.6z"/><path d="M707.2 532l3.6 3.6l-3.6 3.6l-3.6 -3.6z"/><path d="M715.5 532l3.6 3.6l-3.6 3.6l-3.6 -3.6z"/><path d="M719 532l3.6 3.6l-3.6 3.6l-3.6 -3.6z"/></g>
<path d="M59.2 108.4 64.2 108.4 69.2 108.4 74.2 108.5 79.2 108.6 84.2 108.6 89.2 108.6 94.2 108.6 99.2 108.6 104.2 108.7 109.2 109 114.3 109.4 119.3 109.8 124.3 110.2 129.3 110.7 134.3 111.3 139.3 112.2 144.3 113.4 149.3 115 154.3 117.1 159.3 120.1 164.3 124.7 169.4 131 174.4 139.4 178.8 150.8 183.4 165.6 189.6 184.9 194.6 194.3 199.4 194 204.3 193.9 209.3 193.9 214.3 194 219.3 194.1 224.3 194.1 229.3 194.1 234.3 194.1 239.3 194.2 244.3 194.3 249.2 194.2 254.2 194.1 259.2 194.1 264.2 194.1 269.2 194.2 274.2 194.2 279.2 194.2 284.2 194.3 289.2 194.3 294.2 194.3 299.2 194.3 304.2 194.4 309.2 194.5 314.2 194.8 319.2 195.1 324.2 195.2 329.2 195.2 334.2 195.4 339.2 195.6 344.2 196 349.2 196.5 354.3 197.1 359.3 197.9 364.3 198.8 369.3 199.9 374.3 201.5 379.3 203.6 384.3 206.4 389.3 210 394.6 214.5 399.9 221 405.3 229.6 410.2 240.5 414.3 253.9 418.6 269.9 423.7 287.7 429.4 305.5 435 319.2 439.6 322.4 444.3 322.4 449.3 322.4 454.3 322.4 459.3 322.5 464.3 322.5 469.3 322.7 474.3 322.9 479.3 323.2 484.3 323.5 489.2 324 494.2 324.5 499.2 325.1 504.2 325.8 509.2 326.9 514.2 328.3 519.2 329.5 524.2 330.7 529.3 332 534.3 333.7 539.3 335.6 544.3 337.8 549.3 340.5 554.3 343.6 559.3 347.2 564.4 351.4 570 356.9 575.4 364 579.8 372 584.7 381.2 589.5 391.9 594.3 404.1 599.1 418 604.2 433.6 608.9 450.9 613.7 469.7 618.6 489.5 624.7 509.3 630.3 526.9 634.4 535.3 639.3 535.4 644.3 535.5 649.3 535.5 654.3 535.5 659.3 535.5 664.3 535.4 669.3 535.4 674.3 535.5 679.3 535.5 684.2 535.5 689.2 535.5 694.2 535.6 699.2 535.6 704.2 535.6 709.2 535.6 714.2 535.6 719.2 535.6" stroke="#008B8B" stroke-width="1.7" fill="none" stroke-linejoin="round"/>
<g stroke="#DC143C" stroke-width="2.25" fill="#fff"><path d="M66.8 104.8l3.6 3.6l-3.6 3.6l-3.6 -3.6z"/><path d="M75.1 104.8l3.6 3.6l-3.6 3.6l-3.6 -3.6z"/><path d="M83.5 104.8l3.6 3.6l-3.6 3.6l-3.6 -3.6z"/><path d="M91.8 105l3.6 3.6l-3.6 3.6l-3.6 -3.6z"/><path d="M100.1 105.3l3.6 3.6l-3.6 3.6l-3.6 -3.6z"/><path d="M108.1 106.2l3.6 3.6l-3.6 3.6l-3.6 -3.6z"/><path d="M115 107.9l3.6 3.6l-3.6 3.6l-3.6 -3.6z"/><path d="M120.2 110.2l3.6 3.6l-3.6 3.6l-3.6 -3.6z"/><path d="M124 112.9l3.6 3.6l-3.6 3.6l-3.6 -3.6z"/><path d="M126.8 115.7l3.6 3.6l-3.6 3.6l-3.6 -3.6z"/><path d="M128.9 118.6l3.6 3.6l-3.6 3.6l-3.6 -3.6z"/><path d="M130.7 121.5l3.6 3.6l-3.6 3.6l-3.6 -3.6z"/><path d="M132.2 124.4l3.6 3.6l-3.6 3.6l-3.6 -3.6z"/><path d="M133.5 127.4l3.6 3.6l-3.6 3.6l-3.6 -3.6z"/><path d="M134.7 130.3l3.6 3.6l-3.6 3.6l-3.6 -3.6z"/><path d="M135.9 133.3l3.6 3.6l-3.6 3.6l-3.6 -3.6z"/><path d="M137 136.2l3.6 3.6l-3.6 3.6l-3.6 -3.6z"/><path d="M138.1 139.2l3.6 3.6l-3.6 3.6l-3.6 -3.6z"/><path d="M139.2 142.1l3.6 3.6l-3.6 3.6l-3.6 -3.6z"/><path d="M140.3 145.1l3.6 3.6l-3.6 3.6l-3.6 -3.6z"/><path d="M141.3 148.1l3.6 3.6l-3.6 3.6l-3.6 -3.6z"/><path d="M142.2 151l3.6 3.6l-3.6 3.6l-3.6 -3.6z"/><path d="M143.1 154l3.6 3.6l-3.6 3.6l-3.6 -3.6z"/><path d="M144 157l3.6 3.6l-3.6 3.6l-3.6 -3.6z"/><path d="M144.8 159.9l3.6 3.6l-3.6 3.6l-3.6 -3.6z"/><path d="M145.6 162.9l3.6 3.6l-3.6 3.6l-3.6 -3.6z"/><path d="M146.4 165.9l3.6 3.6l-3.6 3.6l-3.6 -3.6z"/><path d="M147.1 168.9l3.6 3.6l-3.6 3.6l-3.6 -3.6z"/><path d="M147.9 171.8l3.6 3.6l-3.6 3.6l-3.6 -3.6z"/><path d="M148.7 174.8l3.6 3.6l-3.6 3.6l-3.6 -3.6z"/><path d="M149.5 177.8l3.6 3.6l-3.6 3.6l-3.6 -3.6z"/><path d="M150.5 180.7l3.6 3.6l-3.6 3.6l-3.6 -3.6z"/><path d="M151.6 183.7l3.6 3.6l-3.6 3.6l-3.6 -3.6z"/><path d="M153 186.6l3.6 3.6l-3.6 3.6l-3.6 -3.6z"/><path d="M156.3 189.3l3.6 3.6l-3.6 3.6l-3.6 -3.6z"/><path d="M164.6 189.2l3.6 3.6l-3.6 3.6l-3.6 -3.6z"/><path d="M173 189.2l3.6 3.6l-3.6 3.6l-3.6 -3.6z"/><path d="M181.3 189.3l3.6 3.6l-3.6 3.6l-3.6 -3.6z"/><path d="M189.7 189.5l3.6 3.6l-3.6 3.6l-3.6 -3.6z"/><path d="M198 189.5l3.6 3.6l-3.6 3.6l-3.6 -3.6z"/><path d="M206.4 189.5l3.6 3.6l-3.6 3.6l-3.6 -3.6z"/><path d="M214.7 189.4l3.6 3.6l-3.6 3.6l-3.6 -3.6z"/><path d="M223.1 189.3l3.6 3.6l-3.6 3.6l-3.6 -3.6z"/><path d="M231.4 189.6l3.6 3.6l-3.6 3.6l-3.6 -3.6z"/><path d="M239.8 189.7l3.6 3.6l-3.6 3.6l-3.6 -3.6z"/><path d="M248.1 189.7l3.6 3.6l-3.6 3.6l-3.6 -3.6z"/><path d="M256.5 189.5l3.6 3.6l-3.6 3.6l-3.6 -3.6z"/><path d="M264.8 189.5l3.6 3.6l-3.6 3.6l-3.6 -3.6z"/><path d="M273.2 189.4l3.6 3.6l-3.6 3.6l-3.6 -3.6z"/><path d="M281.6 189.4l3.6 3.6l-3.6 3.6l-3.6 -3.6z"/><path d="M289.8 189.8l3.6 3.6l-3.6 3.6l-3.6 -3.6z"/><path d="M298.2 190l3.6 3.6l-3.6 3.6l-3.6 -3.6z"/><path d="M306.5 190.1l3.6 3.6l-3.6 3.6l-3.6 -3.6z"/><path d="M314.9 190l3.6 3.6l-3.6 3.6l-3.6 -3.6z"/><path d="M323.1 190.6l3.6 3.6l-3.6 3.6l-3.6 -3.6z"/><path d="M330.9 191.7l3.6 3.6l-3.6 3.6l-3.6 -3.6z"/><path d="M337.8 193.3l3.6 3.6l-3.6 3.6l-3.6 -3.6z"/><path d="M343.5 195.5l3.6 3.6l-3.6 3.6l-3.6 -3.6z"/><path d="M347.7 198.1l3.6 3.6l-3.6 3.6l-3.6 -3.6z"/><path d="M351 200.8l3.6 3.6l-3.6 3.6l-3.6 -3.6z"/><path d="M353.6 203.7l3.6 3.6l-3.6 3.6l-3.6 -3.6z"/><path d="M355.8 206.5l3.6 3.6l-3.6 3.6l-3.6 -3.6z"/><path d="M357.9 209.4l3.6 3.6l-3.6 3.6l-3.6 -3.6z"/><path d="M360 212.3l3.6 3.6l-3.6 3.6l-3.6 -3.6z"/><path d="M361.9 215.2l3.6 3.6l-3.6 3.6l-3.6 -3.6z"/><path d="M363.7 218.1l3.6 3.6l-3.6 3.6l-3.6 -3.6z"/><path d="M365.4 221.1l3.6 3.6l-3.6 3.6l-3.6 -3.6z"/><path d="M367 224l3.6 3.6l-3.6 3.6l-3.6 -3.6z"/><path d="M368.4 226.9l3.6 3.6l-3.6 3.6l-3.6 -3.6z"/><path d="M369.9 229.9l3.6 3.6l-3.6 3.6l-3.6 -3.6z"/><path d="M371.2 232.8l3.6 3.6l-3.6 3.6l-3.6 -3.6z"/><path d="M372.5 235.8l3.6 3.6l-3.6 3.6l-3.6 -3.6z"/><path d="M373.8 238.7l3.6 3.6l-3.6 3.6l-3.6 -3.6z"/><path d="M375 241.7l3.6 3.6l-3.6 3.6l-3.6 -3.6z"/><path d="M376.2 244.6l3.6 3.6l-3.6 3.6l-3.6 -3.6z"/><path d="M377.3 247.6l3.6 3.6l-3.6 3.6l-3.6 -3.6z"/><path d="M378.4 250.5l3.6 3.6l-3.6 3.6l-3.6 -3.6z"/><path d="M379.5 253.5l3.6 3.6l-3.6 3.6l-3.6 -3.6z"/><path d="M380.5 256.5l3.6 3.6l-3.6 3.6l-3.6 -3.6z"/><path d="M381.4 259.4l3.6 3.6l-3.6 3.6l-3.6 -3.6z"/><path d="M382.4 262.4l3.6 3.6l-3.6 3.6l-3.6 -3.6z"/><path d="M383.3 265.4l3.6 3.6l-3.6 3.6l-3.6 -3.6z"/><path d="M384.2 268.3l3.6 3.6l-3.6 3.6l-3.6 -3.6z"/><path d="M385 271.3l3.6 3.6l-3.6 3.6l-3.6 -3.6z"/><path d="M385.9 274.3l3.6 3.6l-3.6 3.6l-3.6 -3.6z"/><path d="M386.7 277.3l3.6 3.6l-3.6 3.6l-3.6 -3.6z"/><path d="M387.6 280.2l3.6 3.6l-3.6 3.6l-3.6 -3.6z"/><path d="M388.4 283.2l3.6 3.6l-3.6 3.6l-3.6 -3.6z"/><path d="M389.2 286.2l3.6 3.6l-3.6 3.6l-3.6 -3.6z"/><path d="M390 289.1l3.6 3.6l-3.6 3.6l-3.6 -3.6z"/><path d="M390.8 292.1l3.6 3.6l-3.6 3.6l-3.6 -3.6z"/><path d="M391.6 295.1l3.6 3.6l-3.6 3.6l-3.6 -3.6z"/><path d="M392.4 298.1l3.6 3.6l-3.6 3.6l-3.6 -3.6z"/><path d="M393.2 301l3.6 3.6l-3.6 3.6l-3.6 -3.6z"/><path d="M394.2 304l3.6 3.6l-3.6 3.6l-3.6 -3.6z"/><path d="M395.2 307l3.6 3.6l-3.6 3.6l-3.6 -3.6z"/><path d="M396.4 309.9l3.6 3.6l-3.6 3.6l-3.6 -3.6z"/><path d="M397.8 312.9l3.6 3.6l-3.6 3.6l-3.6 -3.6z"/><path d="M399.5 315.8l3.6 3.6l-3.6 3.6l-3.6 -3.6z"/><path d="M402 318.6l3.6 3.6l-3.6 3.6l-3.6 -3.6z"/><path d="M408.4 320.2l3.6 3.6l-3.6 3.6l-3.6 -3.6z"/><path d="M416.7 320.5l3.6 3.6l-3.6 3.6l-3.6 -3.6z"/><path d="M425.1 320.6l3.6 3.6l-3.6 3.6l-3.6 -3.6z"/><path d="M433.4 320.7l3.6 3.6l-3.6 3.6l-3.6 -3.6z"/><path d="M441.8 320.8l3.6 3.6l-3.6 3.6l-3.6 -3.6z"/><path d="M449.8 321.6l3.6 3.6l-3.6 3.6l-3.6 -3.6z"/><path d="M457.1 323.1l3.6 3.6l-3.6 3.6l-3.6 -3.6z"/><path d="M463.5 325l3.6 3.6l-3.6 3.6l-3.6 -3.6z"/><path d="M468.8 327.3l3.6 3.6l-3.6 3.6l-3.6 -3.6z"/><path d="M473.1 329.8l3.6 3.6l-3.6 3.6l-3.6 -3.6z"/><path d="M476.7 332.5l3.6 3.6l-3.6 3.6l-3.6 -3.6z"/><path d="M480.2 335.2l3.6 3.6l-3.6 3.6l-3.6 -3.6z"/><path d="M483.3 338l3.6 3.6l-3.6 3.6l-3.6 -3.6z"/><path d="M486.1 340.8l3.6 3.6l-3.6 3.6l-3.6 -3.6z"/><path d="M488.6 343.7l3.6 3.6l-3.6 3.6l-3.6 -3.6z"/><path d="M490.9 346.5l3.6 3.6l-3.6 3.6l-3.6 -3.6z"/><path d="M493 349.4l3.6 3.6l-3.6 3.6l-3.6 -3.6z"/><path d="M494.9 352.3l3.6 3.6l-3.6 3.6l-3.6 -3.6z"/><path d="M496.7 355.3l3.6 3.6l-3.6 3.6l-3.6 -3.6z"/><path d="M498.4 358.2l3.6 3.6l-3.6 3.6l-3.6 -3.6z"/><path d="M499.9 361.1l3.6 3.6l-3.6 3.6l-3.6 -3.6z"/><path d="M501.5 364.1l3.6 3.6l-3.6 3.6l-3.6 -3.6z"/><path d="M503 367l3.6 3.6l-3.6 3.6l-3.6 -3.6z"/><path d="M504.4 369.9l3.6 3.6l-3.6 3.6l-3.6 -3.6z"/><path d="M505.8 372.9l3.6 3.6l-3.6 3.6l-3.6 -3.6z"/><path d="M507.1 375.8l3.6 3.6l-3.6 3.6l-3.6 -3.6z"/><path d="M508.3 378.8l3.6 3.6l-3.6 3.6l-3.6 -3.6z"/><path d="M509.5 381.7l3.6 3.6l-3.6 3.6l-3.6 -3.6z"/><path d="M510.5 384.7l3.6 3.6l-3.6 3.6l-3.6 -3.6z"/><path d="M511.5 387.7l3.6 3.6l-3.6 3.6l-3.6 -3.6z"/><path d="M512.5 390.6l3.6 3.6l-3.6 3.6l-3.6 -3.6z"/><path d="M513.5 393.6l3.6 3.6l-3.6 3.6l-3.6 -3.6z"/><path d="M514.4 396.6l3.6 3.6l-3.6 3.6l-3.6 -3.6z"/><path d="M515.4 399.5l3.6 3.6l-3.6 3.6l-3.6 -3.6z"/><path d="M516.3 402.5l3.6 3.6l-3.6 3.6l-3.6 -3.6z"/><path d="M517.2 405.5l3.6 3.6l-3.6 3.6l-3.6 -3.6z"/><path d="M518 408.4l3.6 3.6l-3.6 3.6l-3.6 -3.6z"/><path d="M518.9 411.4l3.6 3.6l-3.6 3.6l-3.6 -3.6z"/><path d="M519.7 414.4l3.6 3.6l-3.6 3.6l-3.6 -3.6z"/><path d="M520.5 417.3l3.6 3.6l-3.6 3.6l-3.6 -3.6z"/><path d="M521.3 420.3l3.6 3.6l-3.6 3.6l-3.6 -3.6z"/><path d="M522 423.3l3.6 3.6l-3.6 3.6l-3.6 -3.6z"/><path d="M522.8 426.3l3.6 3.6l-3.6 3.6l-3.6 -3.6z"/><path d="M523.5 429.2l3.6 3.6l-3.6 3.6l-3.6 -3.6z"/><path d="M524.1 432.2l3.6 3.6l-3.6 3.6l-3.6 -3.6z"/><path d="M524.8 435.2l3.6 3.6l-3.6 3.6l-3.6 -3.6z"/><path d="M525.5 438.2l3.6 3.6l-3.6 3.6l-3.6 -3.6z"/><path d="M526.2 441.1l3.6 3.6l-3.6 3.6l-3.6 -3.6z"/><path d="M526.8 444.1l3.6 3.6l-3.6 3.6l-3.6 -3.6z"/><path d="M527.4 447.1l3.6 3.6l-3.6 3.6l-3.6 -3.6z"/><path d="M528 450.1l3.6 3.6l-3.6 3.6l-3.6 -3.6z"/><path d="M528.6 453.1l3.6 3.6l-3.6 3.6l-3.6 -3.6z"/><path d="M529.2 456l3.6 3.6l-3.6 3.6l-3.6 -3.6z"/><path d="M529.9 459l3.6 3.6l-3.6 3.6l-3.6 -3.6z"/><path d="M530.5 462l3.6 3.6l-3.6 3.6l-3.6 -3.6z"/><path d="M531.1 465l3.6 3.6l-3.6 3.6l-3.6 -3.6z"/><path d="M531.8 467.9l3.6 3.6l-3.6 3.6l-3.6 -3.6z"/><path d="M532.4 470.9l3.6 3.6l-3.6 3.6l-3.6 -3.6z"/><path d="M533.1 473.9l3.6 3.6l-3.6 3.6l-3.6 -3.6z"/><path d="M533.7 476.9l3.6 3.6l-3.6 3.6l-3.6 -3.6z"/><path d="M534.4 479.9l3.6 3.6l-3.6 3.6l-3.6 -3.6z"/><path d="M535 482.8l3.6 3.6l-3.6 3.6l-3.6 -3.6z"/><path d="M535.8 485.8l3.6 3.6l-3.6 3.6l-3.6 -3.6z"/><path d="M536.5 488.8l3.6 3.6l-3.6 3.6l-3.6 -3.6z"/><path d="M537.2 491.8l3.6 3.6l-3.6 3.6l-3.6 -3.6z"/><path d="M537.9 494.7l3.6 3.6l-3.6 3.6l-3.6 -3.6z"/><path d="M538.5 497.7l3.6 3.6l-3.6 3.6l-3.6 -3.6z"/><path d="M539.1 500.7l3.6 3.6l-3.6 3.6l-3.6 -3.6z"/><path d="M539.7 503.7l3.6 3.6l-3.6 3.6l-3.6 -3.6z"/><path d="M540.3 506.6l3.6 3.6l-3.6 3.6l-3.6 -3.6z"/><path d="M541 509.6l3.6 3.6l-3.6 3.6l-3.6 -3.6z"/><path d="M541.6 512.6l3.6 3.6l-3.6 3.6l-3.6 -3.6z"/><path d="M542.4 515.6l3.6 3.6l-3.6 3.6l-3.6 -3.6z"/><path d="M543.2 518.5l3.6 3.6l-3.6 3.6l-3.6 -3.6z"/><path d="M544.1 521.5l3.6 3.6l-3.6 3.6l-3.6 -3.6z"/><path d="M545.1 524.5l3.6 3.6l-3.6 3.6l-3.6 -3.6z"/><path d="M546.4 527.4l3.6 3.6l-3.6 3.6l-3.6 -3.6z"/><path d="M548.5 530.3l3.6 3.6l-3.6 3.6l-3.6 -3.6z"/><path d="M556.7 530.3l3.6 3.6l-3.6 3.6l-3.6 -3.6z"/><path d="M565.1 530.4l3.6 3.6l-3.6 3.6l-3.6 -3.6z"/><path d="M573.4 530.5l3.6 3.6l-3.6 3.6l-3.6 -3.6z"/><path d="M581.8 530.5l3.6 3.6l-3.6 3.6l-3.6 -3.6z"/><path d="M590.2 530.4l3.6 3.6l-3.6 3.6l-3.6 -3.6z"/><path d="M598.5 530.3l3.6 3.6l-3.6 3.6l-3.6 -3.6z"/><path d="M606.9 530.3l3.6 3.6l-3.6 3.6l-3.6 -3.6z"/><path d="M615.2 530.3l3.6 3.6l-3.6 3.6l-3.6 -3.6z"/><path d="M623.6 530.4l3.6 3.6l-3.6 3.6l-3.6 -3.6z"/><path d="M632 530.3l3.6 3.6l-3.6 3.6l-3.6 -3.6z"/><path d="M640.3 530.3l3.6 3.6l-3.6 3.6l-3.6 -3.6z"/><path d="M648.7 530.3l3.6 3.6l-3.6 3.6l-3.6 -3.6z"/><path d="M657 530.2l3.6 3.6l-3.6 3.6l-3.6 -3.6z"/><path d="M665.4 530.2l3.6 3.6l-3.6 3.6l-3.6 -3.6z"/><path d="M673.7 530.2l3.6 3.6l-3.6 3.6l-3.6 -3.6z"/><path d="M682.1 530.2l3.6 3.6l-3.6 3.6l-3.6 -3.6z"/><path d="M690.5 530.3l3.6 3.6l-3.6 3.6l-3.6 -3.6z"/><path d="M698.8 530.3l3.6 3.6l-3.6 3.6l-3.6 -3.6z"/><path d="M707.2 530.3l3.6 3.6l-3.6 3.6l-3.6 -3.6z"/><path d="M715.5 530.3l3.6 3.6l-3.6 3.6l-3.6 -3.6z"/><path d="M719 530.3l3.6 3.6l-3.6 3.6l-3.6 -3.6z"/></g>
<path d="M66.8 108.4 71.8 108.4 76.8 108.4 81.8 108.4 86.8 108.5 91.8 108.6 96.8 108.7 101.8 109.1 106.8 109.6 111.8 110.5 116.9 112.2 122.1 115 127.1 119.6 131.7 127 136.3 138.1 141.8 153.3 146.9 171.5 151.7 187.5 156.7 192.9 161.7 192.8 166.7 192.8 171.7 192.8 176.7 192.8 181.7 193 186.7 193 191.7 193.1 196.7 193.1 201.7 193.1 206.8 193.1 211.8 193 216.8 193 221.8 192.9 226.8 193 231.8 193.2 236.8 193.3 241.8 193.3 246.8 193.3 251.8 193.3 256.8 193.1 261.8 193.1 266.8 193.1 271.8 193.1 276.8 193 281.8 193 286.8 193.2 291.8 193.5 296.8 193.6 301.8 193.7 306.8 193.7 311.8 193.6 316.8 193.7 321.8 194.1 326.8 194.6 331.8 195.4 336.8 196.6 341.8 198.3 346.7 201 351.7 205.1 356.3 210.7 361 217.4 366.1 226 371.4 236.8 376.9 250 382.2 265.5 387.2 282.4 391.7 299.3 396.4 313.4 401.5 321.8 406.7 323.7 411.7 324 416.7 324.1 421.7 324.1 426.7 324.2 431.7 324.3 436.7 324.3 441.7 324.4 446.7 324.8 451.7 325.5 456.7 326.6 461.7 328 466.7 329.9 471.7 332.5 476.6 336 481.5 340 486.5 344.8 491.5 350.9 496.4 358.4 501.4 367.6 506.8 378.7 511.8 392.2 516.9 408.1 522 426.6 526.8 447.6 531.6 470.5 536.9 494.2 541.7 516.2 546.7 531.6 551.7 534 556.7 533.9 561.7 533.9 566.7 534 571.7 534.1 576.7 534.1 581.7 534.1 586.7 534 591.7 534 596.8 533.9 601.8 533.9 606.8 533.9 611.8 533.9 616.8 534 621.8 534 626.8 534 631.8 533.9 636.8 533.9 641.8 533.9 646.8 533.9 651.8 533.9 656.8 533.9 661.8 533.8 666.8 533.8 671.8 533.8 676.8 533.8 681.8 533.8 686.8 533.8 691.8 533.9 696.8 533.9 701.8 533.9 706.8 533.9 711.8 533.9 716.8 533.9" stroke="#DC143C" stroke-width="1.7" fill="none" stroke-linejoin="round"/>
<rect x="831.5" y="9.5" width="97" height="171" rx="3" fill="none" stroke="#d5dfe5" stroke-width="1"/>
<rect x="837.5" y="4" width="45" height="12" fill="#fff"/>
<text x="839.5" y="14.1" font-family="Liberation Sans, Arial, sans-serif" font-size="12" fill="#000">Legend</text>
<path d="M836.5 37.5H851.5" stroke="#FF7F50" stroke-width="1.5"/>
<path d="M843.5 32.2l4.6 5.3l-4.6 5.3l-4.6 -5.3z" stroke="#FF7F50" stroke-width="2" fill="#fff"/>
<text x="858.5" y="41.5" font-family="Liberation Sans, Arial, sans-serif" font-size="12" letter-spacing="0.38" fill="#5a5a5a">caox 10.txt</text>
<path d="M837.5 61.5H851" stroke="#FF7F50" stroke-width="2.2" stroke-linecap="round"/>
<text x="858.5" y="65.5" font-family="Liberation Sans, Arial, sans-serif" font-size="12" letter-spacing="0.38" fill="#5a5a5a">Fit</text>
<path d="M836.5 85.5H851.5" stroke="#008B8B" stroke-width="1.5"/>
<path d="M843.5 80.2l4.6 5.3l-4.6 5.3l-4.6 -5.3z" stroke="#008B8B" stroke-width="2" fill="#fff"/>
<text x="858.5" y="89.5" font-family="Liberation Sans, Arial, sans-serif" font-size="12" letter-spacing="0.38" fill="#5a5a5a">caox 20.txt</text>
<path d="M837.5 109.5H851" stroke="#008B8B" stroke-width="2.2" stroke-linecap="round"/>
<text x="858.5" y="113.5" font-family="Liberation Sans, Arial, sans-serif" font-size="12" letter-spacing="0.38" fill="#5a5a5a">Fit</text>
<path d="M836.5 133.5H851.5" stroke="#DC143C" stroke-width="1.5"/>
<path d="M843.5 128.2l4.6 5.3l-4.6 5.3l-4.6 -5.3z" stroke="#DC143C" stroke-width="2" fill="#fff"/>
<text x="858.5" y="137.5" font-family="Liberation Sans, Arial, sans-serif" font-size="12" letter-spacing="0.38" fill="#5a5a5a">Caox05.txt</text>
<path d="M837.5 157.5H851" stroke="#DC143C" stroke-width="2.2" stroke-linecap="round"/>
<text x="858.5" y="161.5" font-family="Liberation Sans, Arial, sans-serif" font-size="12" letter-spacing="0.38" fill="#5a5a5a">Fit</text>
</svg>
</body></html>
